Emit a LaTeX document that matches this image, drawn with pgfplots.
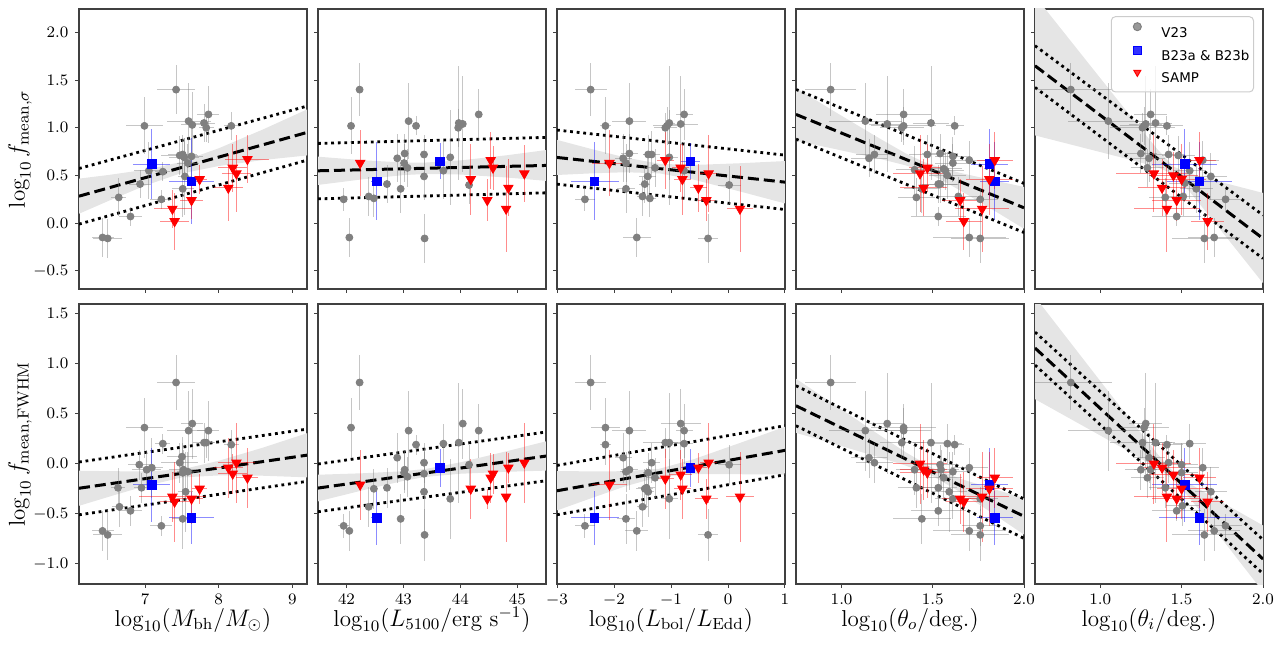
\documentclass[border=0pt]{standalone}
\usepackage{fontspec}
\newfontfamily\dejavu{DejaVu Sans}
\usepackage{pgfplots}
\pgfplotsset{compat=1.18}
\pgfplotsset{
 panel/.style={width=114pt,height=140pt,scale only axis,anchor=south west,
  tick align=outside, xtick pos=bottom, ytick pos=left,
  major tick length=1.8pt,
  axis line style={black!75,line width=0.6pt},
  every tick/.style={black!75,line width=0.5pt},
  tick label style={font=\fontsize{7.8}{9}\selectfont},
  label style={font=\fontsize{11.5}{13}\selectfont},
  xlabel style={at={(axis description cs:0.5,0)},anchor=base,yshift=-21pt},
  ylabel style={at={(axis description cs:-0.259,0.5)},anchor=center},
  yticklabel style={/pgf/number format/fixed,/pgf/number format/fixed zerofill,/pgf/number format/precision=1},
 },
 toprow/.style={ymin=-0.69,ymax=2.245,ytick={-0.5,0,0.5,1,1.5,2},xticklabels={}},
 botrow/.style={ymin=-1.2,ymax=1.593,ytick={-1,-0.5,0,0.5,1,1.5}},
 onedecx/.style={xticklabel style={/pgf/number format/fixed,/pgf/number format/fixed zerofill,/pgf/number format/precision=1}},
 errs/.style={error bars/x dir=both, error bars/x explicit, error bars/y dir=both, error bars/y explicit, error bars/error mark=none, error bars/error bar style={line width=0.45pt, opacity=0.45}},
 v23/.style={only marks, mark=*, mark size=1.75pt, color=gray, errs},
 b23/.style={only marks, mark=square*, mark size=2.1pt, color=blue, errs},
 samp/.style={only marks, mark=triangle*, mark size=2.7pt, mark options={rotate=180}, color=red, errs},
 fitline/.style={black, line width=1.5pt, dash pattern=on 5.5pt off 2.5pt, forget plot},
 dotline/.style={black, line width=1.4pt, dash pattern=on 1.4pt off 1.9pt, forget plot},
 band/.style={fill=black!10, draw=none, forget plot},
}
\begin{document}
\begin{tikzpicture}
\useasboundingbox (0,0) rectangle (640pt,325pt);
% ================= TOP ROW =================
\begin{axis}[panel, toprow, at={(39.5pt,180.5pt)}, xmin=6.1, xmax=9.2, xtick={7,8,9},
  ylabel={$\log_{10} f_{{\rm mean},\sigma}$}]
\addplot[band] coordinates {(6.1,0.467)(6.5,0.505)(7.0,0.560)(7.45,0.634)(8.0,0.785)(8.6,0.982)(9.2,1.192)(9.2,0.710)(8.6,0.662)(8.0,0.599)(7.45,0.514)(7.0,0.394)(6.5,0.233)(6.1,0.099)} --cycle;
\addplot[fitline] coordinates {(6.1,0.283)(9.2,0.951)};
\addplot[dotline] coordinates {(6.1,0.573)(9.2,1.227)};
\addplot[dotline] coordinates {(6.1,-0.01)(9.2,0.66)};
\addplot[v23] coordinates {(7.42,1.40)+-(0.26,0.26)(6.99,1.02)+-(0.25,0.30)(7.59,1.07)+-(0.30,0.40)(7.64,1.03)+-(0.15,0.35)(7.80,1.05)+-(0.15,0.20)(7.86,1.14)+-(0.15,0.30)(7.83,1.00)+-(0.10,0.15)(8.17,1.02)+-(0.10,0.15)(7.47,0.71)+-(0.25,0.20)(7.51,0.72)+-(0.20,0.20)(7.53,0.69)+-(0.20,0.20)(7.63,0.70)+-(0.15,0.30)(7.58,0.63)+-(0.15,0.20)(7.05,0.55)+-(0.20,0.30)(7.24,0.54)+-(0.10,0.10)(6.93,0.41)+-(0.15,0.15)(6.64,0.27)+-(0.10,0.20)(7.22,0.25)+-(0.15,0.10)(7.51,0.36)+-(0.15,0.30)(6.80,0.07)+-(0.15,0.10)(6.42,-0.15)+-(0.15,0.20)(6.49,-0.16)+-(0.20,0.20)(7.54,0.49)+-(0.10,0.40)};
\addplot[b23] coordinates {(7.09,0.62)+-(0.25,0.37)(7.63,0.44)+-(0.30,0.45)};
\addplot[samp] coordinates {(7.74,0.46)+-(0.10,0.15)(7.37,0.15)+-(0.25,0.20)(7.40,0.02)+-(0.20,0.30)(7.63,0.24)+-(0.15,0.20)(8.19,0.58)+-(0.20,0.25)(8.24,0.52)+-(0.20,0.40)(8.13,0.37)+-(0.20,0.35)(8.39,0.67)+-(0.30,0.25)};
\end{axis}
\begin{axis}[panel, toprow, at={(159pt,180.5pt)}, xmin=41.5, xmax=45.5, xtick={42,43,44,45}, yticklabels={}]
\addplot[band] coordinates {(41.5,0.697)(42.3,0.659)(43.0,0.636)(43.4,0.636)(44.0,0.658)(44.8,0.711)(45.5,0.766)(45.5,0.444)(44.8,0.479)(44.0,0.510)(43.4,0.516)(43.0,0.504)(42.3,0.461)(41.5,0.401)} --cycle;
\addplot[fitline] coordinates {(41.5,0.549)(45.5,0.605)};
\addplot[dotline] coordinates {(41.5,0.836)(45.5,0.899)};
\addplot[dotline] coordinates {(41.5,0.255)(45.5,0.318)};
\addplot[v23] coordinates {(42.23,1.40)+-(0.04,0.28)(42.08,1.02)+-(0.04,0.30)(43.09,1.07)+-(0.04,0.40)(43.22,1.02)+-(0.04,0.10)(43.97,1.05)+-(0.04,0.60)(44.04,1.04)+-(0.04,0.50)(43.96,1.00)+-(0.04,0.20)(44.32,1.14)+-(0.04,0.27)(42.89,0.68)+-(0.04,0.25)(43.02,0.73)+-(0.04,0.20)(43.01,0.63)+-(0.04,0.20)(43.07,0.58)+-(0.04,0.20)(43.36,0.72)+-(0.04,0.20)(43.36,0.49)+-(0.04,0.25)(43.82,0.69)+-(0.04,0.50)(43.70,0.55)+-(0.04,0.30)(42.71,0.41)+-(0.04,0.20)(44.15,0.40)+-(0.04,0.20)(42.95,0.36)+-(0.04,0.25)(42.39,0.28)+-(0.04,0.20)(42.48,0.26)+-(0.04,0.20)(41.95,0.25)+-(0.05,0.12)(42.05,-0.15)+-(0.04,0.20)(43.37,-0.16)+-(0.04,0.26)};
\addplot[b23] coordinates {(42.53,0.44)+-(0.10,0.41)(43.64,0.65)+-(0.05,0.19)};
\addplot[samp] coordinates {(42.24,0.63)+-(0.05,0.35)(44.18,0.46)+-(0.04,0.37)(44.53,0.66)+-(0.04,0.30)(44.57,0.58)+-(0.04,0.23)(44.84,0.37)+-(0.04,0.30)(44.47,0.24)+-(0.04,0.22)(44.80,0.15)+-(0.04,0.45)(45.12,0.52)+-(0.04,0.30)};
\end{axis}
\begin{axis}[panel, toprow, at={(278.5pt,180.5pt)}, xmin=-3, xmax=1, xtick={-3,-2,-1,0,1}, yticklabels={}]
\addplot[band] coordinates {(-3,0.873)(-2.4,0.778)(-1.8,0.688)(-1.2,0.622)(-0.6,0.610)(0.2,0.628)(1.0,0.651)(1.0,0.207)(0.2,0.334)(-0.6,0.456)(-1.2,0.522)(-1.8,0.534)(-2.4,0.522)(-3,0.505)} --cycle;
\addplot[fitline] coordinates {(-3,0.689)(1,0.43)};
\addplot[dotline] coordinates {(-3,0.976)(1,0.713)};
\addplot[dotline] coordinates {(-3,0.409)(1,0.143)};
\addplot[v23] coordinates {(-2.41,1.40)+-(0.28,0.28)(-2.15,1.02)+-(0.10,0.30)(-1.73,1.07)+-(0.30,0.40)(-1.10,1.00)+-(0.20,0.15)(-1.07,1.02)+-(0.25,0.20)(-1.03,1.05)+-(0.10,0.60)(-0.83,1.04)+-(0.30,0.50)(-0.77,1.14)+-(0.15,0.27)(-1.84,0.68)+-(0.15,0.25)(-1.73,0.73)+-(0.15,0.20)(-1.79,0.63)+-(0.10,0.20)(-1.40,0.72)+-(0.10,0.20)(-1.34,0.72)+-(0.15,0.25)(-1.28,0.58)+-(0.15,0.20)(-1.41,0.49)+-(0.15,0.25)(-1.46,0.41)+-(0.10,0.20)(-1.03,0.69)+-(0.15,0.50)(-0.77,0.55)+-(0.15,0.30)(0.02,0.40)+-(0.20,0.20)(-1.79,0.36)+-(0.15,0.25)(-1.50,0.28)+-(0.10,0.20)(-1.37,0.26)+-(0.10,0.20)(-2.51,0.25)+-(0.18,0.12)(-1.60,-0.15)+-(0.25,0.20)(-0.35,-0.16)+-(0.18,0.26)};
\addplot[b23] coordinates {(-2.34,0.44)+-(0.42,0.41)(-0.66,0.65)+-(0.17,0.19)};
\addplot[samp] coordinates {(-2.08,0.63)+-(0.30,0.35)(-1.10,0.66)+-(0.15,0.30)(-0.83,0.58)+-(0.15,0.25)(-0.80,0.46)+-(0.15,0.37)(-0.52,0.37)+-(0.15,0.25)(-0.38,0.24)+-(0.15,0.22)(-0.34,0.52)+-(0.15,0.40)(0.21,0.15)+-(0.22,0.45)};
\end{axis}
\begin{axis}[panel, toprow, onedecx, at={(398pt,180.5pt)}, xmin=0.75, xmax=2.0, xtick={1,1.5,2}, yticklabels={}]
\addplot[band] coordinates {(0.75,1.416)(0.95,1.183)(1.2,0.897)(1.35,0.733)(1.45,0.642)(1.55,0.577)(1.65,0.527)(1.85,0.442)(2.0,0.380)(2.0,-0.058)(1.85,0.116)(1.65,0.343)(1.55,0.451)(1.45,0.542)(1.35,0.607)(1.2,0.679)(0.95,0.783)(0.75,0.864)} --cycle;
\addplot[fitline] coordinates {(0.75,1.14)(2,0.161)};
\addplot[dotline] coordinates {(0.75,1.402)(2,0.416)};
\addplot[dotline] coordinates {(0.75,0.881)(2,-0.098)};
\addplot[v23] coordinates {(0.94,1.40)+-(0.14,0.28)(1.13,1.07)+-(0.20,0.40)(1.25,1.04)+-(0.10,0.50)(1.34,1.14)+-(0.15,0.27)(1.34,1.02)+-(0.18,0.20)(1.33,1.00)+-(0.12,0.15)(1.49,1.05)+-(0.10,0.60)(1.62,1.02)+-(0.05,0.10)(1.15,0.68)+-(0.10,0.20)(1.18,0.72)+-(0.10,0.20)(1.47,0.72)+-(0.10,0.20)(1.54,0.73)+-(0.10,0.20)(1.61,0.70)+-(0.10,0.20)(1.61,0.63)+-(0.10,0.20)(1.70,0.66)+-(0.10,0.20)(1.40,0.56)+-(0.10,0.25)(1.56,0.57)+-(0.10,0.20)(1.57,0.55)+-(0.10,0.20)(1.58,0.50)+-(0.10,0.25)(1.53,0.41)+-(0.10,0.20)(1.54,0.41)+-(0.10,0.20)(1.44,0.36)+-(0.10,0.25)(1.64,0.28)+-(0.10,0.20)(1.76,0.25)+-(0.10,0.12)(1.41,0.27)+-(0.10,0.20)(1.53,0.07)+-(0.15,0.10)(1.70,-0.15)+-(0.20,0.20)(1.76,-0.16)+-(0.16,0.26)};
\addplot[b23] coordinates {(1.81,0.62)+-(0.10,0.37)(1.84,0.44)+-(0.08,0.41)};
\addplot[samp] coordinates {(1.43,0.52)+-(0.15,0.40)(1.47,0.58)+-(0.10,0.25)(1.45,0.37)+-(0.13,0.30)(1.65,0.24)+-(0.10,0.22)(1.67,0.02)+-(0.10,0.30)(1.77,0.15)+-(0.15,0.45)(1.81,0.46)+-(0.13,0.37)(1.84,0.66)+-(0.10,0.30)};
\end{axis}
\begin{axis}[panel, toprow, onedecx, at={(517.5pt,180.5pt)}, xmin=0.6, xmax=2.0, xtick={1,1.5,2}, yticklabels={},
  legend style={at={(1,1)}, anchor=north east, xshift=-4.5pt, yshift=-3.6pt, draw=black!20, line width=0.5pt, rounded corners=2pt, fill=white, fill opacity=0.8, text opacity=1, font=\dejavu\fontsize{6.7}{8}\selectfont, row sep=3.0pt, column sep=0pt, inner xsep=1pt, inner ysep=3pt, nodes={inner sep=1pt, text height=5.5pt, text depth=0.6pt}},
  legend image code/.code={\path[draw=none,fill=none] (0pt,2.7pt) -- (23pt,2.7pt); \draw[#1] plot coordinates {(12pt,2.7pt)};},
  legend image post style={mark size=2pt},
  legend cell align=left]
\addplot[band] coordinates {(0.6,2.38)(0.8,1.951)(1.0,1.522)(1.2,1.094)(1.35,0.778)(1.45,0.594)(1.55,0.52)(1.7,0.449)(1.85,0.383)(2.0,0.317)(2.0,-0.629)(1.85,-0.307)(1.7,0.013)(1.55,0.33)(1.45,0.514)(1.35,0.588)(1.2,0.658)(1.0,0.746)(0.8,0.833)(0.6,0.92)} --cycle;
\addplot[fitline] coordinates {(0.6,1.65)(2,-0.161)};
\addplot[dotline] coordinates {(0.6,1.86)(2,0.084)};
\addplot[dotline] coordinates {(0.6,1.423)(2,-0.37)};
\addplot[v23] coordinates {(0.82,1.40)+-(0.25,0.28)(1.05,1.07)+-(0.25,0.40)(1.26,1.00)+-(0.20,0.15)(1.27,1.02)+-(0.15,0.20)(1.28,1.04)+-(0.10,0.50)(1.31,1.14)+-(0.10,0.27)(1.34,1.05)+-(0.10,0.60)(1.41,1.02)+-(0.10,0.10)(1.25,0.73)+-(0.10,0.20)(1.30,0.68)+-(0.10,0.25)(1.42,0.72)+-(0.10,0.20)(1.48,0.71)+-(0.10,0.20)(1.63,0.66)+-(0.10,0.20)(1.29,0.58)+-(0.10,0.20)(1.55,0.55)+-(0.10,0.30)(1.68,0.49)+-(0.10,0.25)(1.52,0.42)+-(0.10,0.20)(1.59,0.36)+-(0.10,0.25)(1.77,0.25)+-(0.10,0.12)(1.40,0.27)+-(0.10,0.20)(1.51,0.28)+-(0.10,0.20)(1.47,0.07)+-(0.15,0.10)(1.64,-0.16)+-(0.20,0.26)(1.70,-0.15)+-(0.16,0.20)};
\addlegendentry{V23}
\addplot[b23] coordinates {(1.52,0.62)+-(0.20,0.37)(1.61,0.44)+-(0.20,0.41)};
\addlegendentry{B23a \& B23b}
\addplot[samp] coordinates {(1.33,0.52)+-(0.23,0.40)(1.38,0.37)+-(0.15,0.30)(1.45,0.50)+-(0.15,0.25)(1.50,0.46)+-(0.15,0.37)(1.61,0.66)+-(0.10,0.30)(1.41,0.15)+-(0.20,0.45)(1.47,0.24)+-(0.15,0.22)(1.66,0.02)+-(0.10,0.30)};
\addlegendentry{SAMP}
\end{axis}
% ================= BOTTOM ROW =================
\begin{axis}[panel, botrow, at={(39.5pt,33pt)}, xmin=6.1, xmax=9.2, xtick={7,8,9},
  ylabel={$\log_{10} f_{\rm mean,FWHM}$}, xlabel={$\log_{10}(M_{\rm bh}/M_{\odot})$}]
\addplot[band] coordinates {(6.1,-0.07)(6.6,-0.075)(7.0,-0.077)(7.5,-0.057)(8.0,0.029)(8.6,0.160)(9.2,0.304)(9.2,-0.136)(8.6,-0.120)(8.0,-0.117)(7.5,-0.137)(7.0,-0.223)(6.6,-0.309)(6.1,-0.42)} --cycle;
\addplot[fitline] coordinates {(6.1,-0.245)(9.2,0.085)};
\addplot[dotline] coordinates {(6.1,0.017)(9.2,0.345)};
\addplot[dotline] coordinates {(6.1,-0.51)(9.2,-0.176)};
\addplot[v23] coordinates {(7.42,0.81)+-(0.26,0.27)(6.99,0.36)+-(0.25,0.30)(7.64,0.40)+-(0.15,0.35)(7.59,0.33)+-(0.30,0.40)(7.86,0.33)+-(0.15,0.30)(7.80,0.21)+-(0.15,0.20)(7.83,0.21)+-(0.10,0.15)(8.17,0.19)+-(0.10,0.15)(7.24,0.20)+-(0.10,0.10)(7.50,0.07)+-(0.20,0.20)(7.47,0.01)+-(0.25,0.20)(7.52,-0.06)+-(0.20,0.20)(7.58,-0.08)+-(0.15,0.20)(6.92,-0.01)+-(0.15,0.15)(7.09,-0.04)+-(0.15,0.30)(7.02,-0.06)+-(0.20,0.20)(7.51,-0.09)+-(0.15,0.30)(7.55,-0.28)+-(0.10,0.40)(7.51,-0.55)+-(0.15,0.30)(7.22,-0.62)+-(0.15,0.10)(6.63,-0.24)+-(0.10,0.20)(6.65,-0.43)+-(0.10,0.20)(6.80,-0.47)+-(0.15,0.15)(6.95,-0.24)+-(0.10,0.15)(6.42,-0.67)+-(0.15,0.20)(6.49,-0.71)+-(0.20,0.25)};
\addplot[b23] coordinates {(7.09,-0.21)+-(0.25,0.37)(7.63,-0.54)+-(0.30,0.26)};
\addplot[samp] coordinates {(7.37,-0.33)+-(0.45,0.25)(7.40,-0.38)+-(0.20,0.40)(7.63,-0.35)+-(0.15,0.25)(7.74,-0.25)+-(0.10,0.15)(8.13,-0.04)+-(0.20,0.30)(8.19,-0.10)+-(0.20,0.20)(8.24,0.01)+-(0.25,0.40)(8.39,-0.14)+-(0.15,0.30)};
\end{axis}
\begin{axis}[panel, botrow, at={(159pt,33pt)}, xmin=41.5, xmax=45.5, xtick={42,43,44,45}, yticklabels={},
  xlabel={$\log_{10}(L_{5100}/{\rm erg~s^{-1}})$}]
\addplot[band] coordinates {(41.5,-0.110)(42.3,-0.095)(43.0,-0.075)(43.4,-0.051)(44.0,0.014)(44.8,0.123)(45.5,0.223)(45.5,-0.069)(44.8,-0.081)(44.0,-0.100)(43.4,-0.131)(43.0,-0.171)(42.3,-0.263)(41.5,-0.376)} --cycle;
\addplot[fitline] coordinates {(41.5,-0.243)(45.5,0.076)};
\addplot[dotline] coordinates {(41.5,-0.003)(45.5,0.316)};
\addplot[dotline] coordinates {(41.5,-0.479)(45.5,-0.17)};
\addplot[v23] coordinates {(42.23,0.81)+-(0.04,0.27)(42.08,0.36)+-(0.04,0.30)(43.09,0.33)+-(0.04,0.40)(43.22,0.19)+-(0.04,0.10)(43.97,0.21)+-(0.04,0.60)(44.04,0.40)+-(0.04,0.35)(43.70,0.20)+-(0.04,0.20)(44.32,0.33)+-(0.04,0.27)(42.89,0.06)+-(0.04,0.25)(43.02,-0.06)+-(0.04,0.20)(43.01,-0.09)+-(0.04,0.20)(43.07,-0.13)+-(0.04,0.20)(43.36,0.01)+-(0.04,0.20)(43.36,-0.10)+-(0.04,0.25)(43.36,-0.28)+-(0.04,0.40)(44.15,-0.01)+-(0.04,0.20)(43.82,-0.35)+-(0.04,0.40)(42.71,-0.24)+-(0.04,0.20)(42.48,-0.25)+-(0.04,0.20)(42.39,-0.43)+-(0.04,0.20)(42.95,-0.55)+-(0.04,0.25)(41.95,-0.62)+-(0.10,0.12)(42.05,-0.67)+-(0.04,0.20)(43.37,-0.71)+-(0.04,0.26)};
\addplot[b23] coordinates {(42.53,-0.54)+-(0.10,0.27)(43.64,-0.04)+-(0.05,0.19)};
\addplot[samp] coordinates {(42.24,-0.21)+-(0.05,0.35)(44.18,-0.25)+-(0.04,0.30)(44.53,-0.14)+-(0.04,0.25)(44.57,-0.10)+-(0.04,0.20)(44.84,-0.04)+-(0.04,0.15)(44.47,-0.35)+-(0.04,0.10)(44.80,-0.33)+-(0.04,0.45)(45.12,0.01)+-(0.04,0.40)};
\end{axis}
\begin{axis}[panel, botrow, at={(278.5pt,33pt)}, xmin=-3, xmax=1, xtick={-3,-2,-1,0,1}, yticklabels={},
  xlabel={$\log_{10}(L_{\rm bol}/L_{\rm Edd})$}]
\addplot[band] coordinates {(-3,-0.074)(-2.4,-0.076)(-1.8,-0.075)(-1.2,-0.05)(-0.6,0.045)(0.2,0.205)(1.0,0.368)(1.0,-0.108)(0.2,-0.105)(-0.6,-0.105)(-1.2,-0.13)(-1.8,-0.225)(-2.4,-0.344)(-3,-0.466)} --cycle;
\addplot[fitline] coordinates {(-3,-0.27)(1,0.133)};
\addplot[dotline] coordinates {(-3,-0.017)(1,0.379)};
\addplot[dotline] coordinates {(-3,-0.509)(1,-0.11)};
\addplot[v23] coordinates {(-2.41,0.81)+-(0.27,0.27)(-2.15,0.36)+-(0.25,0.30)(-2.15,0.19)+-(0.10,0.20)(-1.73,0.33)+-(0.30,0.40)(-1.84,0.06)+-(0.15,0.25)(-1.73,-0.06)+-(0.15,0.20)(-1.79,-0.08)+-(0.10,0.20)(-1.10,0.21)+-(0.40,0.15)(-1.03,0.21)+-(0.15,0.50)(-0.83,0.40)+-(0.35,0.35)(-0.77,0.33)+-(0.15,0.27)(-0.77,0.20)+-(0.15,0.20)(-1.34,0.01)+-(0.15,0.20)(-1.28,-0.14)+-(0.15,0.20)(-1.40,-0.09)+-(0.10,0.20)(-1.43,-0.24)+-(0.15,0.20)(-1.40,-0.28)+-(0.10,0.25)(-1.46,-0.25)+-(0.15,0.20)(-1.50,-0.43)+-(0.10,0.20)(-1.03,-0.35)+-(0.15,0.40)(0.02,-0.01)+-(0.20,0.20)(-1.79,-0.55)+-(0.15,0.25)(-2.51,-0.62)+-(0.18,0.12)(-1.60,-0.67)+-(0.20,0.20)(-0.35,-0.71)+-(0.18,0.26)};
\addplot[b23] coordinates {(-2.34,-0.54)+-(0.42,0.27)(-0.66,-0.04)+-(0.17,0.19)};
\addplot[samp] coordinates {(-2.08,-0.21)+-(0.30,0.35)(-1.10,-0.15)+-(0.15,0.30)(-0.83,-0.11)+-(0.20,0.25)(-0.80,-0.25)+-(0.15,0.30)(-0.52,-0.04)+-(0.15,0.15)(-0.38,-0.35)+-(0.20,0.20)(-0.34,0.01)+-(0.15,0.40)(0.21,-0.33)+-(0.25,0.45)};
\end{axis}
\begin{axis}[panel, botrow, onedecx, at={(398pt,33pt)}, xmin=0.75, xmax=2.0, xtick={1,1.5,2}, yticklabels={},
  xlabel={$\log_{10}(\theta_o/{\rm deg.})$}]
\addplot[band] coordinates {(0.75,0.848)(0.95,0.602)(1.2,0.295)(1.35,0.116)(1.5,-0.044)(1.65,-0.149)(1.7,-0.178)(1.85,-0.261)(2.0,-0.343)(2.0,-0.707)(1.85,-0.523)(1.7,-0.342)(1.65,-0.283)(1.5,-0.124)(1.35,-0.018)(1.2,0.067)(0.95,0.202)(0.75,0.308)} --cycle;
\addplot[fitline] coordinates {(0.75,0.578)(2,-0.525)};
\addplot[dotline] coordinates {(0.75,0.778)(2,-0.352)};
\addplot[dotline] coordinates {(0.75,0.379)(2,-0.745)};
\addplot[v23] coordinates {(0.94,0.81)+-(0.14,0.27)(1.13,0.33)+-(0.20,0.40)(1.25,0.40)+-(0.10,0.50)(1.34,0.36)+-(0.18,0.20)(1.34,0.33)+-(0.15,0.27)(1.33,0.21)+-(0.12,0.15)(1.49,0.21)+-(0.10,0.60)(1.58,0.20)+-(0.08,0.20)(1.62,0.19)+-(0.05,0.10)(1.15,0.06)+-(0.10,0.20)(1.18,0.01)+-(0.10,0.20)(1.40,-0.06)+-(0.10,0.25)(1.54,-0.01)+-(0.10,0.20)(1.545,-0.06)+-(0.10,0.20)(1.61,-0.08)+-(0.10,0.20)(1.70,-0.04)+-(0.10,0.20)(1.56,-0.14)+-(0.10,0.20)(1.59,-0.28)+-(0.10,0.40)(1.53,-0.24)+-(0.10,0.20)(1.41,-0.24)+-(0.10,0.20)(1.61,-0.35)+-(0.10,0.20)(1.53,-0.47)+-(0.15,0.15)(1.44,-0.55)+-(0.16,0.25)(1.76,-0.35)+-(0.10,0.12)(1.70,-0.67)+-(0.20,0.20)(1.76,-0.62)+-(0.10,0.20)(1.76,-0.71)+-(0.16,0.26)};
\addplot[b23] coordinates {(1.81,-0.21)+-(0.10,0.37)(1.84,-0.54)+-(0.10,0.27)};
\addplot[samp] coordinates {(1.43,0.00)+-(0.15,0.40)(1.47,-0.09)+-(0.15,0.25)(1.65,-0.35)+-(0.10,0.25)(1.67,-0.38)+-(0.10,0.30)(1.77,-0.33)+-(0.15,0.45)(1.81,-0.25)+-(0.13,0.37)(1.84,-0.14)+-(0.10,0.30)(1.45,-0.06)+-(0.13,0.30)};
\end{axis}
\begin{axis}[panel, botrow, onedecx, at={(517.5pt,33pt)}, xmin=0.6, xmax=2.0, xtick={1,1.5,2}, yticklabels={},
  xlabel={$\log_{10}(\theta_i/{\rm deg.})$}]
\addplot[band] coordinates {(0.6,1.664)(0.8,1.245)(1.0,0.826)(1.2,0.409)(1.35,0.101)(1.45,-0.081)(1.55,-0.199)(1.7,-0.341)(1.85,-0.478)(2.0,-0.616)(2.0,-1.276)(1.85,-0.964)(1.7,-0.651)(1.55,-0.343)(1.45,-0.161)(1.35,-0.043)(1.2,0.099)(1.0,0.282)(0.8,0.463)(0.6,0.644)} --cycle;
\addplot[fitline] coordinates {(0.6,1.154)(2,-0.951)};
\addplot[dotline] coordinates {(0.6,1.313)(2,-0.758)};
\addplot[dotline] coordinates {(0.6,0.984)(2,-1.097)};
\addplot[v23] coordinates {(0.82,0.81)+-(0.25,0.27)(1.05,0.33)+-(0.25,0.40)(1.26,0.21)+-(0.20,0.15)(1.27,0.36)+-(0.15,0.20)(1.28,0.40)+-(0.10,0.50)(1.34,0.21)+-(0.10,0.60)(1.41,0.19)+-(0.10,0.10)(1.55,0.20)+-(0.10,0.20)(1.25,-0.06)+-(0.10,0.20)(1.30,0.06)+-(0.10,0.25)(1.42,0.01)+-(0.10,0.20)(1.50,-0.01)+-(0.10,0.20)(1.63,-0.04)+-(0.10,0.20)(1.31,-0.06)+-(0.10,0.20)(1.29,-0.14)+-(0.10,0.20)(1.68,-0.28)+-(0.10,0.25)(1.40,-0.24)+-(0.10,0.20)(1.50,-0.09)+-(0.10,0.30)(1.505,-0.42)+-(0.10,0.20)(1.47,-0.47)+-(0.15,0.10)(1.77,-0.62)+-(0.10,0.12)(1.64,-0.71)+-(0.20,0.26)(1.70,-0.67)+-(0.16,0.20)};
\addplot[b23] coordinates {(1.52,-0.21)+-(0.20,0.37)(1.61,-0.54)+-(0.25,0.27)};
\addplot[samp] coordinates {(1.33,0.00)+-(0.23,0.40)(1.38,-0.04)+-(0.15,0.25)(1.45,-0.11)+-(0.15,0.25)(1.50,-0.25)+-(0.15,0.30)(1.61,-0.14)+-(0.10,0.30)(1.41,-0.33)+-(0.20,0.45)(1.47,-0.35)+-(0.15,0.20)(1.66,-0.38)+-(0.10,0.30)};
\end{axis}
\end{tikzpicture}
\end{document}
